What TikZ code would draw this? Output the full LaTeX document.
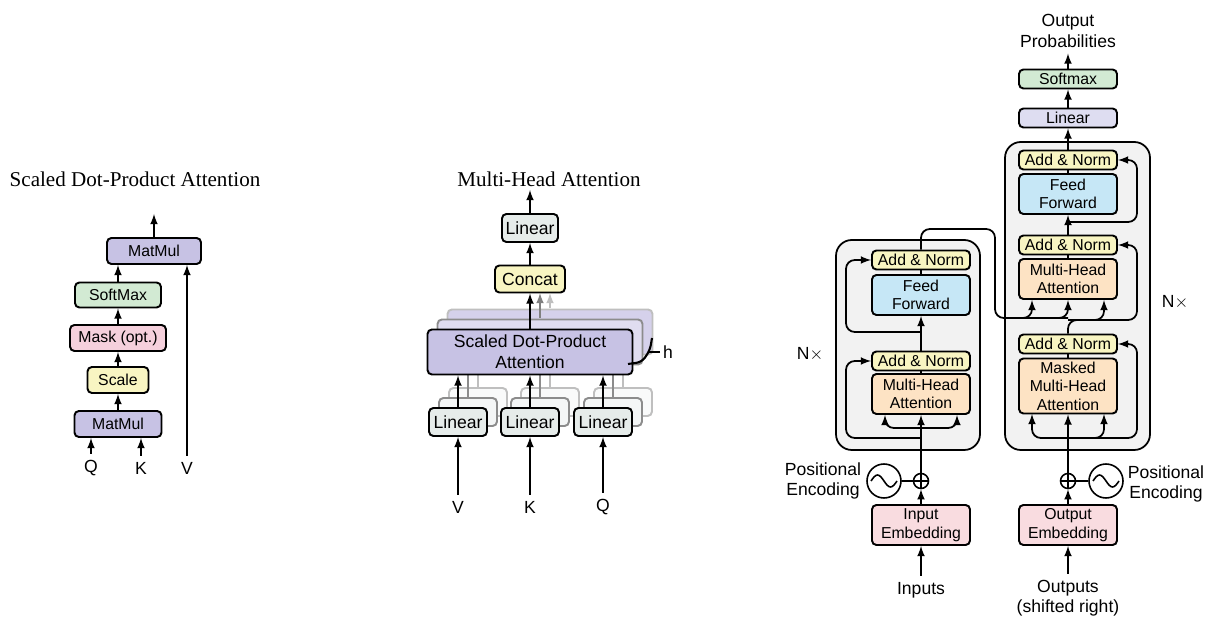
\documentclass[tikz,border=0pt]{standalone}
\usepackage{fontspec}
\setmainfont{Liberation Sans}
\newfontfamily\titlefont{Liberation Serif}
\usetikzlibrary{arrows,calc,positioning}
\definecolor{cMat}{HTML}{C7C2E4}
\definecolor{cSoft}{HTML}{D2EAD3}
\definecolor{cMask}{HTML}{F5D0DC}
\definecolor{cScale}{HTML}{F8F5C2}
\definecolor{cLin}{HTML}{E6ECEA}
\definecolor{cAttn}{HTML}{FDE3C4}
\definecolor{cFF}{HTML}{C6E7F6}
\definecolor{cOut}{HTML}{DEDDF1}
\definecolor{cEmb}{HTML}{F9DCE0}
\definecolor{cBack}{HTML}{F2F2F2}
\begin{document}
\begin{tikzpicture}
[x=0.02cm, y=-0.02cm, >=latex,
 blk/.style={rectangle,draw,line width=1.1pt,rounded corners=2.5pt,inner sep=1pt,
   font=\fontsize{9}{10.5}\selectfont,align=center},
 small/.style={blk,minimum width=1.96cm,minimum height=0.38cm},
 big/.style={blk,minimum width=1.96cm,minimum height=0.8cm},
 ghost/.style={blk,draw=black!#1,fill=white!#1!cMat},
 ghostl/.style={blk,draw=black!#1,fill=cLin!#1!white},
 lbl/.style={font=\fontsize{10}{11.5}\selectfont,align=center},
 ttl/.style={font=\titlefont\fontsize{12}{14}\selectfont},
 arr/.style={->,line width=1pt},
 wire/.style={line width=1pt,rounded corners=5pt}]
\useasboundingbox (0,0) rectangle (1214,634);
% scaled dot-product attention
\node[ttl] (t1) at (135,179) {Scaled Dot-Product Attention};
\node[blk,fill=cMat,minimum width=1.88cm,minimum height=0.52cm] (mm2) at (154,251) {MatMul};
\node[blk,fill=cSoft,minimum width=1.72cm,minimum height=0.5cm] (soft) at (118,295) {SoftMax};
\node[blk,fill=cMask,minimum width=1.92cm,minimum height=0.52cm] (mask) at (118,338) {Mask (opt.)};
\node[blk,fill=cScale,minimum width=1.22cm,minimum height=0.52cm] (scale) at (118,380) {Scale};
\node[blk,fill=cMat,minimum width=1.74cm,minimum height=0.52cm] (mm1) at (118,424) {MatMul};
\node[lbl] (q1) at (91,468) {Q};
\node[lbl] (k1) at (141,468) {K};
\node[lbl] (v1) at (187,468) {V};
\coordinate (out1) at (154,214);
\draw[arr] (q1.north) -- (q1.north |- mm1.south);
\draw[arr] (k1.north) -- (k1.north |- mm1.south);
\draw[arr] (v1.north) -- (v1.north |- mm2.south);
\draw[arr] (mm1) -- (scale);
\draw[arr] (scale) -- (mask);
\draw[arr] (mask) -- (soft);
\draw[arr] (soft.north) -- (soft.north |- mm2.south);
\draw[arr] (mm2) -- (out1);
% multi-head attention
\node[ttl] (t2) at (549,179) {Multi-Head Attention};
\foreach \d/\o in {20/25,10/45}{
  \node[ghost=\o,minimum width=4.1cm,minimum height=0.9cm] at (530+\d,352-\d) {};
  \foreach \x in {458,530,603}{
    \node[ghostl=\o,minimum width=1.16cm,minimum height=0.56cm] at (\x+\d,422-\d) {};
    \draw[line width=1pt,black!\o] (\x+\d,408-\d) -- (\x+\d,374);}}
\node[blk,fill=cMat,minimum width=4.1cm,minimum height=0.9cm,font=\fontsize{10}{12}\selectfont] (sdpa) at (530,352) {Scaled Dot-Product\\Attention};
\node[blk,fill=cScale,minimum width=1.4cm,minimum height=0.54cm,font=\fontsize{10}{11}\selectfont] (cat) at (530,279) {Concat};
\node[blk,fill=cLin,minimum width=1.12cm,minimum height=0.56cm,font=\fontsize{10}{11}\selectfont] (lin) at (530,228) {Linear};
\foreach \x/\n/\t in {458/lv/V,530/lk/K,603/lq/Q}{
  \node[blk,fill=cLin,minimum width=1.16cm,minimum height=0.56cm,font=\fontsize{10}{11}\selectfont] (\n) at (\x,422) {Linear};
  \node[lbl] (in\n) at (\x,507) {\t};
  \draw[arr] (in\n.north) -- (\n.south);
  \draw[arr] (\n.north) -- (\n.north |- sdpa.south);}
\coordinate (out2) at (530,190);
\draw[arr,black!50] (540,318) -- (540,293);
\draw[arr,black!25] (550,308) -- (550,293);
\draw[arr] (sdpa) -- (cat);
\draw[arr] (cat) -- (lin);
\draw[arr] (lin) -- (out2);
\node[lbl] (hh) at (668,352) {h};
\draw[line width=1pt] (660,352) -- (648,352);
\draw[line width=1.2pt,rounded corners=3pt] (652,338) -- (650,350) -- (642,362) -- (628,364);
% transformer
\draw[line width=1pt,rounded corners=9pt,fill=cBack] (836,240) rectangle (980,450);
\draw[line width=1pt,rounded corners=9pt,fill=cBack] (1005,142) rectangle (1150,450);
\node[small,fill=cScale] (ean2) at (921,260) {Add \& Norm};
\node[big,fill=cFF] (eff) at (921,295) {Feed\\Forward};
\node[small,fill=cScale] (ean1) at (921,361) {Add \& Norm};
\node[big,fill=cAttn] (emha) at (921,394) {Multi-Head\\Attention};
\node[small,fill=cScale] (dan3) at (1068,160) {Add \& Norm};
\node[big,fill=cFF] (dff) at (1068,194) {Feed\\Forward};
\node[small,fill=cScale] (dan2) at (1068,245) {Add \& Norm};
\node[big,fill=cAttn] (dmha) at (1068,279) {Multi-Head\\Attention};
\node[small,fill=cScale] (dan1) at (1068,344) {Add \& Norm};
\node[blk,fill=cAttn,minimum width=1.96cm,minimum height=1.1cm] (dmsk) at (1068,386) {Masked\\Multi-Head\\Attention};
\node[small,fill=cOut] (dlin) at (1068,118) {Linear};
\node[small,fill=cSoft] (dsoft) at (1068,79) {Softmax};
\node[lbl] (prob) at (1068,31) {Output\\Probabilities};
\node[big,fill=cEmb] (iemb) at (921,525) {Input\\Embedding};
\node[big,fill=cEmb] (oemb) at (1068,525) {Output\\Embedding};
\node[lbl] (inp) at (921,590) {Inputs};
\node[lbl] (outp) at (1068,598) {Outputs\\(shifted right)};
\node[lbl] (nx1) at (810,354) {N$\times$};
\node[lbl] (nx2) at (1175,302) {N$\times$};
\node[lbl] (pe1) at (823,481) {Positional\\Encoding};
\node[lbl] (pe2) at (1166,484) {Positional\\Encoding};
\node[circle,draw,line width=0.9pt,minimum size=0.3cm,inner sep=0pt] (ep) at (921,481) {};
\node[circle,draw,line width=0.9pt,minimum size=0.3cm,inner sep=0pt] (dp) at (1068,481) {};
\draw[line width=0.8pt] (ep.north) -- (ep.south) (ep.west) -- (ep.east) (dp.north) -- (dp.south) (dp.west) -- (dp.east);
\node[circle,draw,line width=0.9pt,minimum size=0.68cm,inner sep=0pt] (es) at (884,481) {};
\node[circle,draw,line width=0.9pt,minimum size=0.68cm,inner sep=0pt] (ds) at (1106,481) {};
\foreach \c in {es,ds}
  \draw[line width=0.9pt] ($(\c)+(-13,0)$) sin ($(\c)+(-6.5,-6)$) cos (\c) sin ($(\c)+(6.5,6)$) cos ($(\c)+(13,0)$);
\draw[line width=1pt] (es) -- (ep) (ds) -- (dp);
\draw[arr] (inp) -- (iemb);
\draw[arr] (outp) -- (oemb);
\draw[arr] (iemb) -- (ep);
\draw[arr] (oemb) -- (dp);
\draw[arr] (ep) -- (emha);
\draw[arr] (dp) -- (dmsk);
% encoder wiring
\draw[arr,wire] (921,438) -| (846,361) -- (ean1.west);
\draw[arr,wire] (921,428) -| (885,415);
\draw[arr,wire] (921,428) -| (957,415);
\draw[arr] (ean1) -- (eff);
\draw[arr,wire] (921,332) -| (846,260) -- (ean2.west);
\draw[line width=1pt] (emha) -- (ean1) (eff) -- (ean2);
\draw[wire] (ean2.north) |- (995,229) |- (1068,318);
\draw[arr,wire] (1010,318) -| (1032,300);
\draw[arr,wire] (1045,318) -| (1068,300);
% decoder wiring
\draw[arr,wire] (1068,438) -| (1104,414);
\draw[arr,wire] (1068,438) -| (1032,414);
\draw[arr,wire] (1068,438) -| (1137,344) -- (dan1.east);
\draw[line width=1pt] (dmsk) -- (dan1) (dmha) -- (dan2) (dff) -- (dan3);
\draw[arr,wire] (dan1.north) |- (1085,320) -| (1104,300);
\draw[arr,wire] (1068,320) -| (1137,245) -- (dan2.east);
\draw[arr] (dan2) -- (dff);
\draw[arr,wire] (1068,222) -| (1137,160) -- (dan3.east);
\draw[arr] (dan3) -- (dlin);
\draw[arr] (dlin) -- (dsoft);
\draw[arr] (dsoft) -- (prob);
\end{tikzpicture}
\end{document}
